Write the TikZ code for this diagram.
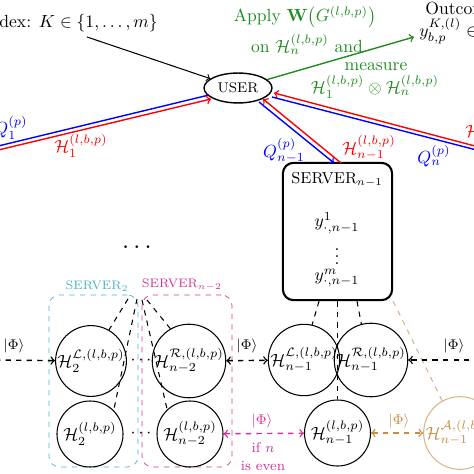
\documentclass[tikz,border=0pt]{standalone}
\usepackage{amssymb}
\usepackage{amsfonts}
\usepackage{tikz}
\usetikzlibrary{shapes.geometric,calc}

\definecolor{applygreen}{RGB}{34,139,34}
\definecolor{srvcyan}{RGB}{70,180,205}
\definecolor{srvmagenta}{RGB}{215,50,150}
\definecolor{anctan}{RGB}{215,180,140}
\definecolor{ancbrown}{RGB}{200,140,70}

\begin{document}
\begin{tikzpicture}[x=0.568pt,y=-0.568pt,
   hnode/.style={circle,draw,semithick,minimum size=37.5pt,inner sep=0pt},
   srvbox/.style={rectangle,draw,very thick,rounded corners=6pt,
    minimum width=62pt,minimum height=78pt},
   grpbox/.style={rectangle,draw,dashed,rounded corners=6pt,
    minimum width=50.6pt,minimum height=97.7pt},
   gtext/.style={applygreen,inner sep=0.5pt},
   qline/.style={blue,thick},
   hline/.style={red,thick},
   epr/.style={dashed,thick},
   link/.style={dashed,semithick}
   ]
  \useasboundingbox (0,0) rectangle (474,474);
  \clip (0,0) rectangle (474,474);

  % -- user, index and outcome
  \node[ellipse,draw,thick,minimum width=38.6pt,minimum height=17pt,inner sep=1pt] at (238,88) (user) {\footnotesize USER};
  \node[anchor=west,inner sep=0pt] at (-1,23) (idx) {dex: $K\in\{1,\ldots,m\}$};
  \coordinate (idxend) at (87,37);
  \draw[->,semithick] (idxend) -- (user);

  \node[anchor=west,inner sep=0pt] at (425,8) (outc) {Outcom};
  \node[anchor=west,inner sep=0pt] at (419,31) (ykl) {$y^{K,(l)}_{b,p}\in$};
  \coordinate (outarrow) at (414,37);
  \draw[->,thick,applygreen] (user) -- (outarrow);

  % -- measurement text
  \node[gtext] at (305,17) (apply) {Apply $\mathbf{W}\big(G^{(l,b,p)}\big)$};
  \node[gtext] at (307,44) (onh) {on $\mathcal{H}_n^{(l,b,p)}$ and};
  \node[gtext] at (376,67) (meas) {measure};
  \node[gtext] at (375,87) (tens) {$\mathcal{H}_1^{(l,b,p)}\otimes\mathcal{H}_n^{(l,b,p)}$};

  % -- server n-1
  \node[srvbox] at (337.5,231.5) (srv) {};
  \node at (337,180) (srvname) {\small SERVER$_{n-1}$};
  \node[inner sep=1pt] at (337,223) (y1) {$y^{1}_{\cdot,n-1}$};
  \node[inner sep=0pt] at (337,251) (ydots) {$\vdots$};
  \node[inner sep=1pt] at (337,278) (ym) {$y^{m}_{\cdot,n-1}$};

  % -- queries and answers
  \coordinate (uq1) at (209,95);
  \coordinate (fq1) at (-10,148);
  \coordinate (fh1) at (-10,152);
  \coordinate (uh1) at (211,99);
  \draw[qline,->] (uq1) -- (fq1);
  \draw[hline,->] (fh1) -- (uh1);

  \coordinate (uqs) at (259,102);
  \coordinate (sqs) at (334,163);
  \coordinate (shs) at (341,163);
  \coordinate (uhs) at (263,99);
  \draw[qline,->] (uqs) -- (sqs);
  \draw[hline,->] (shs) -- (uhs);

  \coordinate (uqn) at (272,97);
  \coordinate (fqn) at (490,153.5);
  \coordinate (fhn) at (490,150);
  \coordinate (uhn) at (274,93);
  \draw[qline,->] (uqn) -- (fqn);
  \draw[hline,->] (fhn) -- (uhn);

  \node[blue] at (11,128) (q1) {$Q_1^{(p)}$};
  \node[red] at (81,146) (h1) {$\mathcal{H}_1^{(l,b,p)}$};
  \node[blue] at (284,151) (qn1) {$Q_{n-1}^{(p)}$};
  \node[red] at (369,148) (hn1lab) {$\mathcal{H}_{n-1}^{(l,b,p)}$};
  \node[blue] at (434,156) (qn) {$Q_n^{(p)}$};
  \node[red,anchor=west,inner sep=0pt] at (465,131) (hn) {$\mathcal{H}$};

  \node at (137,248) (mdots) {\Large $\cdots$};

  % -- servers 2 and n-2
  \node[grpbox,draw=srvcyan] at (93.5,381) (srv2) {};
  \node[srvcyan] at (97,286) (srv2lab) {\scriptsize SERVER$_2$};
  \node[grpbox,draw=srvmagenta,minimum width=51.1pt] at (187,381) (srvn2) {};
  \node[srvmagenta] at (182,285) (srvn2lab) {\scriptsize SERVER$_{n-2}$};

  % -- top row
  \node[hnode] at (91,361) (h2L) {$\mathcal{H}_2^{\mathcal{L},(l,b,p)}$};
  \node[hnode] at (189,361) (hn2R) {$\mathcal{H}_{n-2}^{\mathcal{R},(l,b,p)}$};
  \node[hnode] at (304,360) (hn1L) {$\mathcal{H}_{n-1}^{\mathcal{L},(l,b,p)}$};
  \node[hnode] at (371,360) (hn1R) {$\mathcal{H}_{n-1}^{\mathcal{R},(l,b,p)}$};
  \node at (141,361) (tdots) {$\cdots$};

  % -- bottom row
  \node[hnode] at (90,434) (h2) {$\mathcal{H}_2^{(l,b,p)}$};
  \node[hnode] at (190,434) (hn2) {$\mathcal{H}_{n-2}^{(l,b,p)}$};
  \node[hnode] at (337.5,433) (hn1) {$\mathcal{H}_{n-1}^{(l,b,p)}$};
  \node[hnode,draw=anctan,text=ancbrown] at (460,433) (hn1A) {$\mathcal{H}_{n-1}^{\mathcal{A},(l,b,p)}$};
  \node at (141,434) (bdots) {$\cdots$};

  % -- shares held by the servers
  \coordinate (s2a) at (128,299);
  \coordinate (s2b) at (137,299);
  \coordinate (sn2a) at (147,300);
  \coordinate (sn2b) at (142,300);
  \draw[link] (s2a) -- (h2L.60);
  \draw[link] (s2b) -- (h2.45);
  \draw[link] (sn2a) -- (hn2R.120);
  \draw[link] (sn2b) -- (hn2.133);
  \draw[link] ($(srv.south)+(-18.5,0)$) -- (hn1L.77);
  \draw[link] (srv.south) -- (hn1);
  \draw[link] ($(srv.south)+(19.5,0)$) -- (hn1R.105);
  \draw[link,anctan] (srv.south east) -- (hn1A.119);

  % -- entangled pairs
  \coordinate (farW) at (-5,360);
  \coordinate (farE) at (480,360);
  \draw[epr,->] (farW) -- (h2L);
  \draw[epr,<->] (hn2R) -- (hn1L);
  \draw[epr,->] (farE) -- (hn1R);
  \draw[epr,srvmagenta,<->] (hn2) -- (hn1);
  \draw[epr,ancbrown,<->] (hn1) -- (hn1A);

  \node at (14,346) (phiW) {\footnotesize $|\Phi\rangle$};
  \node at (247,346) (phiM) {\footnotesize $|\Phi\rangle$};
  \node at (454,346) (phiE) {\footnotesize $|\Phi\rangle$};
  \node[srvmagenta] at (262,421) (phiB) {\footnotesize $|\Phi\rangle$};
  \node[srvmagenta] at (263,448) (ifn) {\footnotesize if $n$};
  \node[srvmagenta] at (263,466) (iseven) {\footnotesize is even};
  \node[ancbrown] at (399,421) (phiA) {\footnotesize $|\Phi\rangle$};

\end{tikzpicture}
\end{document}
